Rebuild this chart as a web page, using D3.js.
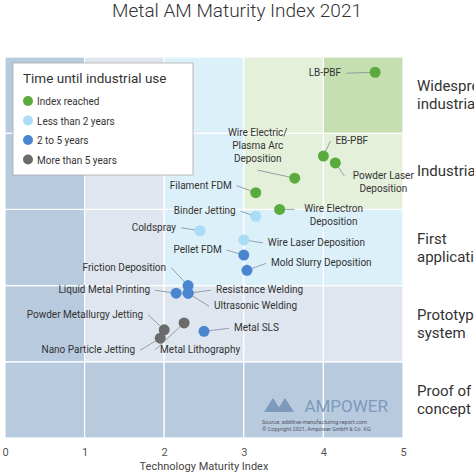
<!DOCTYPE html><html><head><meta charset="utf-8"><script src="https://cdn.jsdelivr.net/npm/d3@7"></script>
<style>body{margin:0;background:#fff}text{font-family:Roboto,sans-serif}</style></head><body><svg id="c" width="474" height="474"></svg><script>
const names=["LB-PBF","EB-PBF","Powder Laser Deposition","Wire Electric/ Plasma Arc Deposition","Filament FDM","Wire Electron Deposition","Binder Jetting","Coldspray","Wire Laser Deposition","Pellet FDM","Mold Slurry Deposition","Friction Deposition","Resistance Welding","Liquid Metal Printing","Ultrasonic Welding","Powder Metallurgy Jetting","Nano Particle Jetting","Metal Lithography","Metal SLS"];
const techIndex=[4.65,4.0,4.15,3.64,3.15,3.45,3.15,2.45,3.0,3.0,3.04,2.3,2.3,2.15,2.3,2.0,1.95,2.25,2.5];
const maturity=[4.8,3.7,3.61,3.41,3.22,3.0,2.91,2.72,2.6,2.4,2.2,2.0,1.9,1.9,1.9,1.42,1.31,1.51,1.4];
const group=[0,0,0,0,0,0,1,1,1,2,2,2,2,2,2,3,3,3,2];
const groupNames=["Index reached","Less than 2 years","2 to 5 years","More than 5 years"];
const levelNames=[["Proof of","concept"],["Prototype","system"],["First","application"],["Industrial"],["Widespread","industrial"]];
const xTicks=[0,1,2,3,4,5];
const lab=[[-32,4,"end"],[10,-12,"start"],[12,16,"start"],[-37,-16,"middle"],[-22,-4,"end"],[18,3,"start"],[-18,-2,"end"],[-22,0,"end"],[22,6,"start"],[-20,-2,"end"],[22,-4,"start"],[-20,-15,"end"],[26,0,"start"],[-24,0,"end"],[24,16,"start"],[-19,-12,"end"],[-23,15,"end"],[-26,30,"start"],[28,0,"start"]];
const colors=["#5aaa3c","#a9dcf5","#4a86d0","#6b6b6b"];
const cellCols=[
["#b8cade","#b8cade","#b8cade","#b8cade","#b8cade"],
["#b8cade","#dfe6ef","#dfe6ef","#dfe6ef","#dfe6ef"],
["#b8cade","#dfe6ef","#dcf0fa","#dcf0fa","#dcf0fa"],
["#b8cade","#dfe6ef","#dcf0fa","#e5f0db","#e5f0db"],
["#b8cade","#dfe6ef","#dcf0fa","#e5f0db","#c6dfb1"]];
const svg=d3.select("#c");
const x=d3.scaleLinear().domain([0,5]).range([5,403]);
const y=d3.scaleLinear().domain([0,5]).range([438,57]);
for(let r=0;r<5;r++)for(let c=0;c<5;c++)svg.append("rect").attr("x",x(c)).attr("y",y(r+1)).attr("width",x(c+1)-x(c)).attr("height",y(r)-y(r+1)).attr("fill",cellCols[r][c]).attr("stroke","#fff").attr("stroke-width",1.2);
svg.append("text").attr("x",237).attr("y",17).attr("text-anchor","middle").attr("font-size",19).attr("fill","#333").attr("font-weight",300).text("Metal AM Maturity Index 2021");
levelNames.forEach((l,i)=>{const yc=y(i+0.5);l.forEach((t,j)=>svg.append("text").attr("x",417).attr("y",yc+(j-(l.length-1)/2)*18+5).attr("font-size",15).attr("fill","#333").text(t));});
const ax=svg.append("g").attr("transform","translate(0,438)").call(d3.axisBottom(x).tickValues(xTicks).tickFormat(d3.format("d")).tickSize(0).tickPadding(10));
ax.select(".domain").remove();ax.selectAll("text").attr("font-size",11).attr("fill","#555").style("font-family","Roboto");
svg.append("text").attr("x",204).attr("y",470).attr("text-anchor","middle").attr("font-size",11).attr("fill","#444").text("Technology Maturity Index");
svg.append("rect").attr("x",13).attr("y",63).attr("width",180).attr("height",112).attr("fill","#fff").attr("stroke","#aaa").attr("stroke-width",0.8);
svg.append("text").attr("x",23).attr("y",83).attr("font-size",13.5).attr("fill","#333").text("Time until industrial use");
groupNames.forEach((g,i)=>{svg.append("circle").attr("cx",28).attr("cy",101+i*19.5).attr("r",5).attr("fill",colors[i]);svg.append("text").attr("x",37).attr("y",105+i*19.5).attr("font-size",10).attr("fill","#333").text(g);});
svg.append("text").attr("x",388).attr("y",412).attr("text-anchor","end").attr("font-size",17).attr("fill","#7d9abb").text("AMPOWER");
svg.append("path").attr("d","M264,412 l9,-14 l9,14 z M276,412 l9,-14 l9,14 z").attr("fill","#7d9abb");
svg.append("text").attr("x",262).attr("y",424).attr("font-size",5.5).attr("fill","#556").text("Source: additive-manufacturing-report.com");
svg.append("text").attr("x",262).attr("y",431).attr("font-size",5.5).attr("fill","#556").text("© Copyright 2021, Ampower GmbH & Co. KG");
names.forEach((n,i)=>{const px=x(techIndex[i]),py=y(maturity[i]);const [dx,dy,anc]=lab[i];
 const lines=n==="Wire Electric/ Plasma Arc Deposition"?["Wire Electric/","Plasma Arc","Deposition"]:n==="Powder Laser Deposition"?["Powder Laser","Deposition"]:n==="Wire Electron Deposition"?["Wire Electron","Deposition"]:[n];
 const lx=px+dx,ly=py+dy;
 svg.append("line").attr("x1",px).attr("y1",py).attr("x2",lx+(anc==="end"?3:anc==="start"?-3:0)).attr("y2",ly+(anc==="middle"?8:-3)).attr("stroke","#7f8c99").attr("stroke-width",0.8);
 let tx=lx+(anc==="end"?-2:anc==="start"?2:0), ta=anc;
 if(lines.length>1&&anc!=="middle"){tx=lx+(anc==="start"?36:-36);ta="middle";}
 const t=svg.append("text").attr("y",ly-(anc==="middle"?(lines.length-1)*13:0)).attr("font-size",10).attr("fill","#333");
 lines.forEach((s,j)=>t.append("tspan").attr("x",tx).attr("dy",j?13:0).attr("text-anchor",ta).text(s));
});
names.forEach((n,i)=>svg.append("circle").attr("cx",x(techIndex[i])).attr("cy",y(maturity[i])).attr("r",5.5).attr("fill",colors[group[i]]));
</script></body></html>
